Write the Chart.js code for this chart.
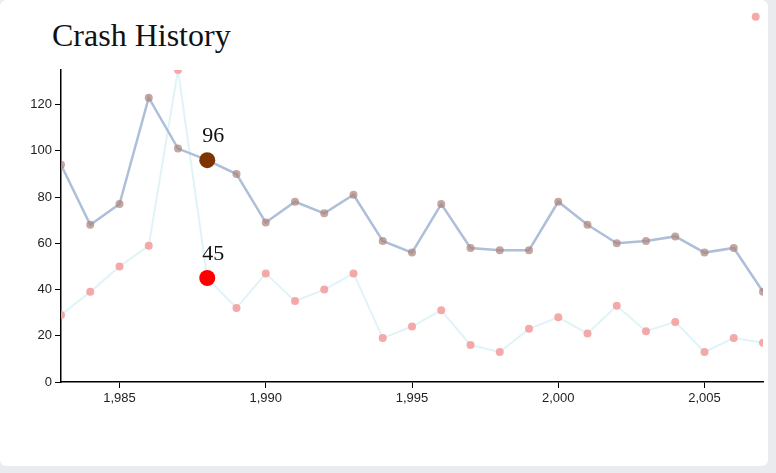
<!DOCTYPE html>
<html><head><meta charset="utf-8">
<script src="https://cdn.jsdelivr.net/npm/chart.js@4"></script>
<style>
body{margin:0;background:#e9ebee;width:776px;height:473px;overflow:hidden;}
#card{position:absolute;left:0;top:0;width:768px;height:466px;background:#fff;border-radius:6px;}
#title{position:absolute;left:52px;top:17px;font-family:"Liberation Serif",serif;font-size:32px;color:#111;}
canvas{position:absolute;left:0;top:0;}
</style></head><body>
<div id="card"></div>
<div id="title">Crash History</div>
<canvas id="c" width="776" height="473"></canvas>
<script>
const years=[1983,1984,1985,1986,1987,1988,1989,1990,1991,1992,1993,1994,1995,1996,1997,1998,1999,2000,2001,2002,2003,2004,2005,2006,2007];
const seriesA=[94,68,77,123,101,96,90,69,78,73,81,61,56,77,58,57,57,78,68,60,61,63,56,58,39];
const seriesB=[29,39,50,59,135,45,32,47,35,40,47,19,24,31,16,13,23,28,21,33,22,26,13,19,17];
const strayPoint={x:2006.75,y:158};
const highlightYear=1988;
const yTicks=[0,20,40,60,80,100,120];
const xTicks=[1985,1990,1995,2000,2005];
const hi=years.indexOf(highlightYear);
const labelPlugin={id:'lbl',afterDatasetsDraw(ch){const ctx=ch.ctx;ctx.save();ctx.font='22px "Liberation Serif", serif';ctx.fillStyle='#111';ctx.textAlign='center';
[0,1].forEach(d=>{const p=ch.getDatasetMeta(d).data[hi];const v=ch.data.datasets[d].data[hi].y;ctx.fillText(String(v),p.x+6,p.y-18);});
ctx.fillStyle='rgba(244,160,160,0.9)';ctx.beginPath();ctx.arc(ch.scales.x.getPixelForValue(strayPoint.x),ch.scales.y.getPixelForValue(strayPoint.y),4,0,Math.PI*2);ctx.fill();
ctx.restore();}};
const mk=(arr)=>arr.map((v,i)=>({x:years[i],y:v}));
const tickGrid={display:true,drawOnChartArea:false,drawTicks:true,tickLength:6,color:'#000',tickColor:'#000'};
new Chart(document.getElementById('c'),{type:'line',
data:{datasets:[
{data:mk(seriesA),borderColor:'#aebfd9',borderWidth:2.5,tension:0,
 pointRadius:c=>c.dataIndex===hi?8:4,pointBorderWidth:0,
 pointBackgroundColor:c=>c.dataIndex===hi?'#7f3300':'rgba(170,130,120,0.7)'},
{data:mk(seriesB),borderColor:'#e0f4f8',borderWidth:2,tension:0,
 pointRadius:c=>c.dataIndex===hi?8:4,pointBorderWidth:0,
 pointBackgroundColor:c=>c.dataIndex===hi?'#ff0000':'rgba(244,160,160,0.9)'}
]},
options:{responsive:false,animation:false,layout:{padding:{left:0,right:13,top:70,bottom:61}},
plugins:{legend:{display:false},tooltip:{enabled:false}},
scales:{
x:{type:'linear',min:1983,max:2007,afterFit:s=>{s.height=30;},grid:tickGrid,border:{color:'#000',width:1.5},
 ticks:{color:'#222',font:{family:'Liberation Sans, Arial',size:13}},
 afterBuildTicks:s=>{s.ticks=xTicks.map(v=>({value:v}));}},
y:{min:0,max:135,afterFit:s=>{s.width=61;},grid:tickGrid,border:{color:'#000',width:1.5},
 afterBuildTicks:s=>{s.ticks=yTicks.map(v=>({value:v}));},
 ticks:{color:'#222',font:{family:'Liberation Sans, Arial',size:13}}}
}},plugins:[labelPlugin]});
</script></body></html>
